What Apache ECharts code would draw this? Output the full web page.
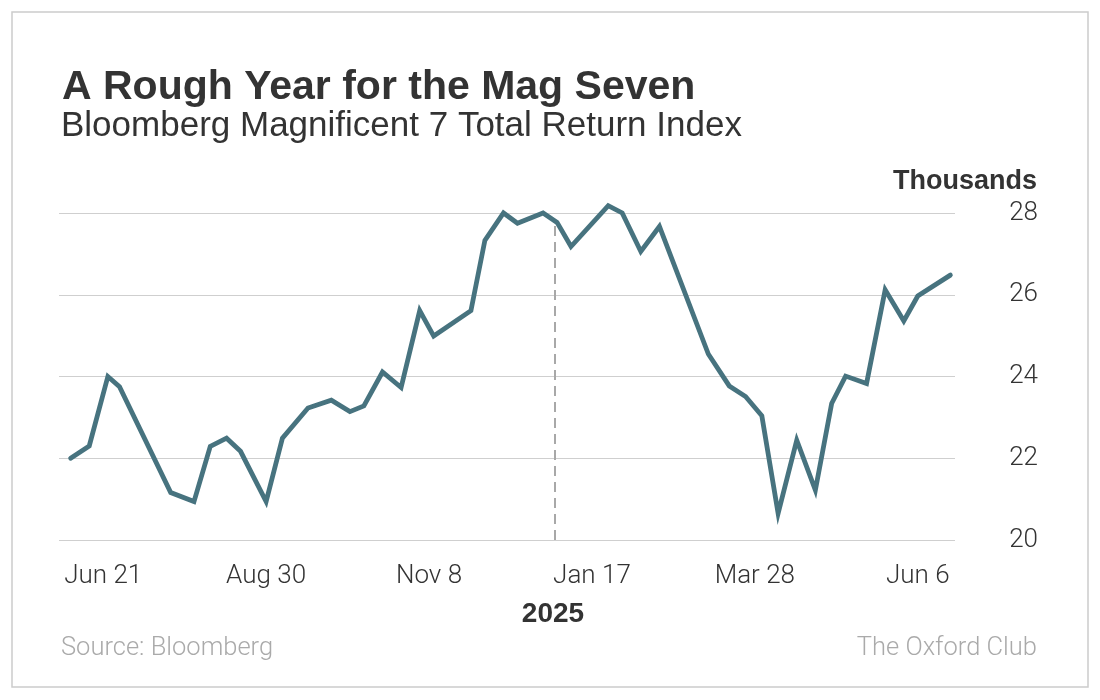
<!DOCTYPE html>
<html>
<head>
<meta charset="utf-8">
<script src="https://cdn.jsdelivr.net/npm/echarts@6/dist/echarts.min.js"></script>
<style>
html,body{margin:0;padding:0;background:#fff;}
#chart{width:1100px;height:700px;}
</style>
</head>
<body>
<div id="chart"></div>
<script>
// ---- data (index level, thousands) ----
var dates = ['2024-06-07','2024-06-15','2024-06-23','2024-06-28','2024-07-20','2024-07-30','2024-08-06','2024-08-13','2024-08-19','2024-08-30',
  '2024-09-06','2024-09-17','2024-09-27','2024-10-05','2024-10-11','2024-10-19','2024-10-27','2024-11-04','2024-11-10','2024-11-26',
  '2024-12-02','2024-12-10','2024-12-16','2024-12-27','2025-01-02','2025-01-08','2025-01-24','2025-01-30','2025-02-07','2025-02-15',
  '2025-03-08','2025-03-17','2025-03-24','2025-03-31','2025-04-07','2025-04-15','2025-04-23','2025-04-30','2025-05-06','2025-05-15',
  '2025-05-23','2025-05-31','2025-06-06','2025-06-20'];
var values = [22.0,22.30,24.0,23.75,21.16,20.94,22.29,22.49,22.17,20.94,
  22.49,23.23,23.42,23.14,23.28,24.11,23.73,25.61,24.99,25.61,
  27.33,28.0,27.75,28.0,27.77,27.18,28.18,28.0,27.06,27.67,
  24.55,23.77,23.51,23.04,20.65,22.44,21.22,23.34,24.01,23.83,
  26.12,25.36,25.97,26.48];
var xTickDates = ['2024-06-21','2024-08-30','2024-11-08','2025-01-17','2025-03-28','2025-06-06'];
var yTicks = [20, 22, 24, 26, 28];
var yearDivider = '2025-01-01';
var yearDividerTop = 27.7;
var titleText = 'A Rough Year for the Mag Seven';
var subtitleText = 'Bloomberg Magnificent 7 Total Return Index';
var unitText = 'Thousands';
var yearText = '2025';
var sourceText = 'Source: Bloomberg';
var creditText = 'The Oxford Club';

var MONTHS = ['Jan','Feb','Mar','Apr','May','Jun','Jul','Aug','Sep','Oct','Nov','Dec'];
function ts(s){ var p = s.split('-'); return Date.UTC(+p[0], +p[1] - 1, +p[2]); }
var seriesData = dates.map(function(d, i){ return [ts(d), values[i]]; });

var FONT = '"Liberation Sans", Arial, Helvetica, sans-serif';
var LIGHT = 'Roboto, "Liberation Sans", Arial, sans-serif';
var chart = echarts.init(document.getElementById('chart'), null, {renderer: 'canvas'});
chart.setOption({
  animation: false,
  backgroundColor: '#fff',
  grid: {left: 59, right: 145, top: 213, bottom: 160, containLabel: false},
  xAxis: {
    type: 'value',
    min: ts('2024-06-02'),
    max: ts('2025-06-22'),
    axisLine: {show: false},
    axisTick: {show: false},
    splitLine: {show: false},
    axisLabel: {
      customValues: xTickDates.map(ts),
      formatter: function(v){ var d = new Date(v); return MONTHS[d.getUTCMonth()] + ' ' + d.getUTCDate(); },
      color: '#333', fontSize: 26, fontFamily: LIGHT, fontWeight: 300, margin: 23, hideOverlap: false
    }
  },
  yAxis: {
    type: 'value',
    position: 'right',
    min: yTicks[0], max: yTicks[yTicks.length - 1], interval: 2,
    axisLine: {show: false},
    axisTick: {show: false},
    splitLine: {show: true, lineStyle: {color: '#cfcfcf', width: 1}},
    axisLabel: {color: '#333', fontSize: 26, fontFamily: LIGHT, fontWeight: 300, align: 'right', margin: 83}
  },
  series: [{
    type: 'line',
    data: seriesData,
    symbol: 'none',
    clip: false,
    lineStyle: {color: '#47737f', width: 4.8, join: 'miter', cap: 'round'},
    markLine: {
      silent: true,
      symbol: ['none', 'none'],
      label: {show: false},
      lineStyle: {color: '#a8a8a8', type: [10, 6], width: 2},
      data: [[{coord: [ts(yearDivider), yTicks[0]]}, {coord: [ts(yearDivider), yearDividerTop]}]]
    }
  }],
  graphic: [
    {type: 'rect', shape: {x: 12, y: 12, width: 1076, height: 675}, style: {fill: 'none', stroke: '#cccccc', lineWidth: 1.5}, silent: true},
    {type: 'text', style: {x: 62, y: 88, text: titleText, font: 'bold 41px ' + FONT, fill: '#333', verticalAlign: 'middle'}},
    {type: 'text', style: {x: 61, y: 126, text: subtitleText, font: '35px ' + FONT, fill: '#333', verticalAlign: 'middle'}},
    {type: 'text', style: {x: 1037, y: 182, text: unitText, font: 'bold 27px ' + FONT, fill: '#333', align: 'right', verticalAlign: 'middle'}},
    {type: 'text', style: {x: 553, y: 614, text: yearText, font: 'bold 28px ' + FONT, fill: '#333', align: 'center', verticalAlign: 'middle'}},
    {type: 'text', style: {x: 61, y: 649, text: sourceText, font: '300 25.5px ' + LIGHT, fill: '#aaa', verticalAlign: 'middle'}},
    {type: 'text', style: {x: 1037, y: 649, text: creditText, font: '300 25.5px ' + LIGHT, fill: '#aaa', align: 'right', verticalAlign: 'middle'}}
  ]
});
</script>
</body>
</html>
